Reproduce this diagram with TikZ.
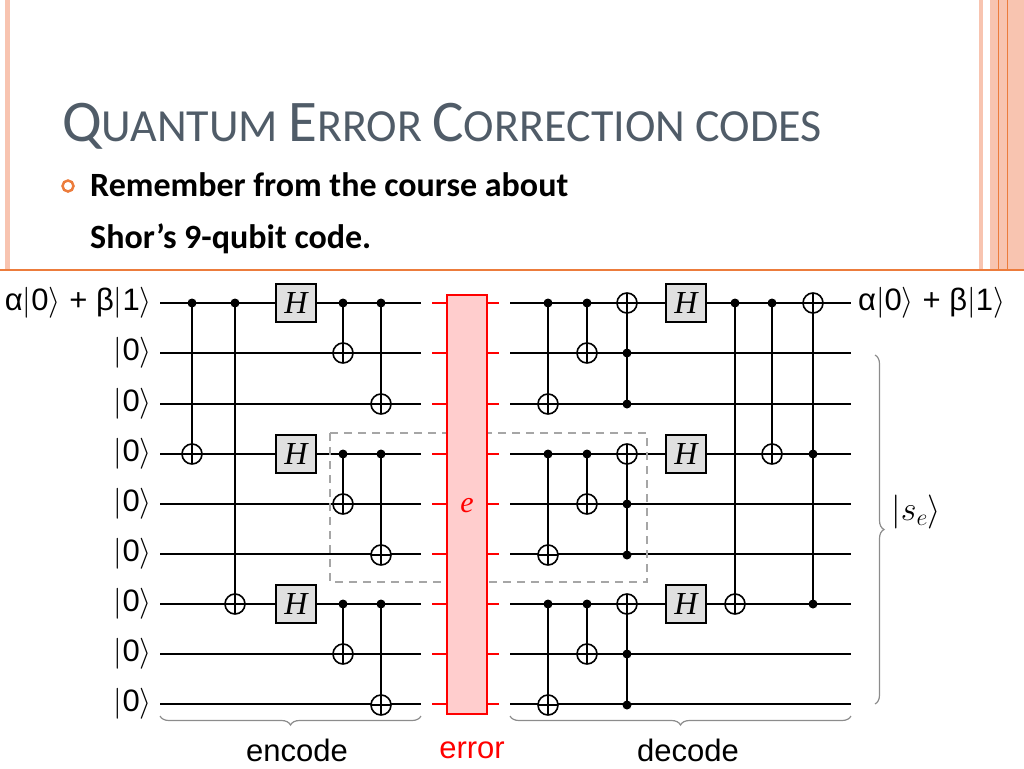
\RequirePackage{fix-cm}
\documentclass[tikz,border=0pt]{standalone}
\usepackage{fontspec}
\setmainfont{Liberation Sans}
\newfontfamily\titlefont{Carlito}
\newfontfamily\serifit{Liberation Serif}
\usetikzlibrary{decorations.pathreplacing}
\definecolor{orl}{RGB}{248,196,176}
\definecolor{ord}{RGB}{236,124,60}
\definecolor{ttl}{RGB}{80,92,104}
\definecolor{errf}{RGB}{255,205,205}
\tikzset{
 wire/.style={line width=1.8pt},
 ctrl/.style={circle,fill=black,inner sep=0pt,minimum size=9pt},
 targ/.style={circle,draw,line width=1.6pt,inner sep=0pt,minimum size=20pt,fill=white,
   path picture={\draw[line width=1.6pt] (path picture bounding box.north)--(path picture bounding box.south)
   (path picture bounding box.west)--(path picture bounding box.east);}},
 hgate/.style={draw,line width=1.6pt,fill=black!12,minimum width=40pt,minimum height=38pt,inner sep=0pt,
   font=\fontsize{32}{32}\serifit\itshape},
 lbl/.style={anchor=east,font=\fontsize{31}{33}\selectfont,inner sep=0pt},
 redtick/.style={draw=red,line width=1.4pt},
 brc/.style={draw=black!45,line width=1.2pt,decorate,decoration={brace,amplitude=9pt}},
}
\begin{document}
\begin{tikzpicture}[x=1pt,y=-1pt]
\useasboundingbox (0,0) rectangle (1024,768);
% slide decoration
\fill[orl] (5,0) rectangle (10,270);
\fill[orl] (979,0) rectangle (983,270);
\fill[orl] (990,0) rectangle (1024,270);
\draw[ord,line width=0.6pt] (998,0)--(998,270) (1007,0)--(1007,270);
\draw[ord,line width=2pt] (0,270)--(1024,270);
\node[anchor=base west,inner sep=0pt,text=ttl] (title) at (62,141)
 {\titlefont\fontsize{59}{59}\selectfont Q\fontsize{46}{46}\selectfont UANTUM \fontsize{59}{59}\selectfont E\fontsize{46}{46}\selectfont RROR \fontsize{59}{59}\selectfont C\fontsize{46}{46}\selectfont ORRECTION CODES};
\node[circle,draw=ord,line width=2.5pt,minimum size=11pt,inner sep=0pt] (bul) at (68,186) {};
\node[anchor=base west,inner sep=0pt] (b1) at (90,196) {\titlefont\bfseries\fontsize{34}{34}\selectfont Remember from the course about};
\node[anchor=base west,inner sep=0pt] (b2) at (90,248) {\titlefont\bfseries\fontsize{34}{34}\selectfont Shor’s 9-qubit code.};
% wires
\foreach \i/\y in {1/303,2/353,3/404,4/454,5/504,6/554,7/604,8/654,9/704}{
  \coordinate (a\i) at (160,\y); \coordinate (b\i) at (421,\y);
  \coordinate (c\i) at (510,\y); \coordinate (d\i) at (851,\y);
  \draw[wire] (a\i)--(b\i); \draw[wire] (c\i)--(d\i);
  \draw[redtick] (432,\y)--(447,\y); \draw[redtick] (487,\y)--(499,\y);
  \ifnum\i=1\else\node[lbl] (l\i) at (152,\y) {$|$0$\rangle$};\fi
}
\node[lbl] (l1) at (152,303) {α$|$0$\rangle$ + β$|$1$\rangle$};
\node[anchor=west,font=\fontsize{31}{33}\selectfont,inner sep=0pt] (out) at (858,303) {α$|$0$\rangle$ + β$|$1$\rangle$};
% dashed box
\draw[dashed,draw=black!35,line width=1.4pt,dash pattern=on 8pt off 6pt] (330,433) rectangle (647,582);
% error box
\node[draw=red,line width=1.6pt,fill=errf,minimum width=40pt,minimum height=419pt,inner sep=0pt] (err) at (467,504.5) {};
\node[text=red,font=\fontsize{30}{30}\serifit\itshape] (e) at (467,506) {e};
% encode
\draw[wire] (192,303)--(192,454); \node[ctrl] (e1c) at (192,303) {}; \node[targ] (e1t) at (192,454) {};
\draw[wire] (235,303)--(235,604); \node[ctrl] (e2c) at (235,303) {}; \node[targ] (e2t) at (235,604) {};
\foreach \t in {303,454,604}{
  \node[hgate] (h\t) at (296,\t) {H};
  \draw[wire] (343,\t)--(343,\t+50); \node[ctrl] at (343,\t) {}; \node[targ] at (343,\t+50) {};
  \draw[wire] (381,\t)--(381,\t+101); \node[ctrl] at (381,\t) {}; \node[targ] at (381,\t+101) {};
  % decode
  \draw[wire] (548,\t)--(548,\t+101); \node[ctrl] at (548,\t) {}; \node[targ] at (548,\t+101) {};
  \draw[wire] (587,\t)--(587,\t+50); \node[ctrl] at (587,\t) {}; \node[targ] at (587,\t+50) {};
  \draw[wire] (627,\t)--(627,\t+101); \node[ctrl] at (627,\t+50) {}; \node[ctrl] at (627,\t+101) {}; \node[targ] at (627,\t) {};
  \node[hgate] (g\t) at (686,\t) {H};
}
\draw[wire] (735,303)--(735,604); \node[ctrl] at (735,303) {}; \node[targ] (d1t) at (735,604) {};
\draw[wire] (772,303)--(772,454); \node[ctrl] at (772,303) {}; \node[targ] (d2t) at (772,454) {};
\draw[wire] (813,303)--(813,604); \node[ctrl] at (813,454) {}; \node[ctrl] at (813,604) {}; \node[targ] (d3t) at (813,303) {};
% braces
\draw[brc,decoration={mirror}] (160,716)--(421,716);
\draw[brc,decoration={mirror}] (510,716)--(851,716);
\draw[brc] (875,355)--(875,704);
\node[font=\fontsize{31}{31}\selectfont] (enc) at (297,750) {encode};
\node[font=\fontsize{31}{31}\selectfont,text=red] (errl) at (472,750) {error};
\node[font=\fontsize{31}{31}\selectfont] (dec) at (688,750) {decode};
\node[anchor=west,font=\fontsize{34}{34}\selectfont] (se) at (888,512) {$|s_e\rangle$};
\end{tikzpicture}
\end{document}
